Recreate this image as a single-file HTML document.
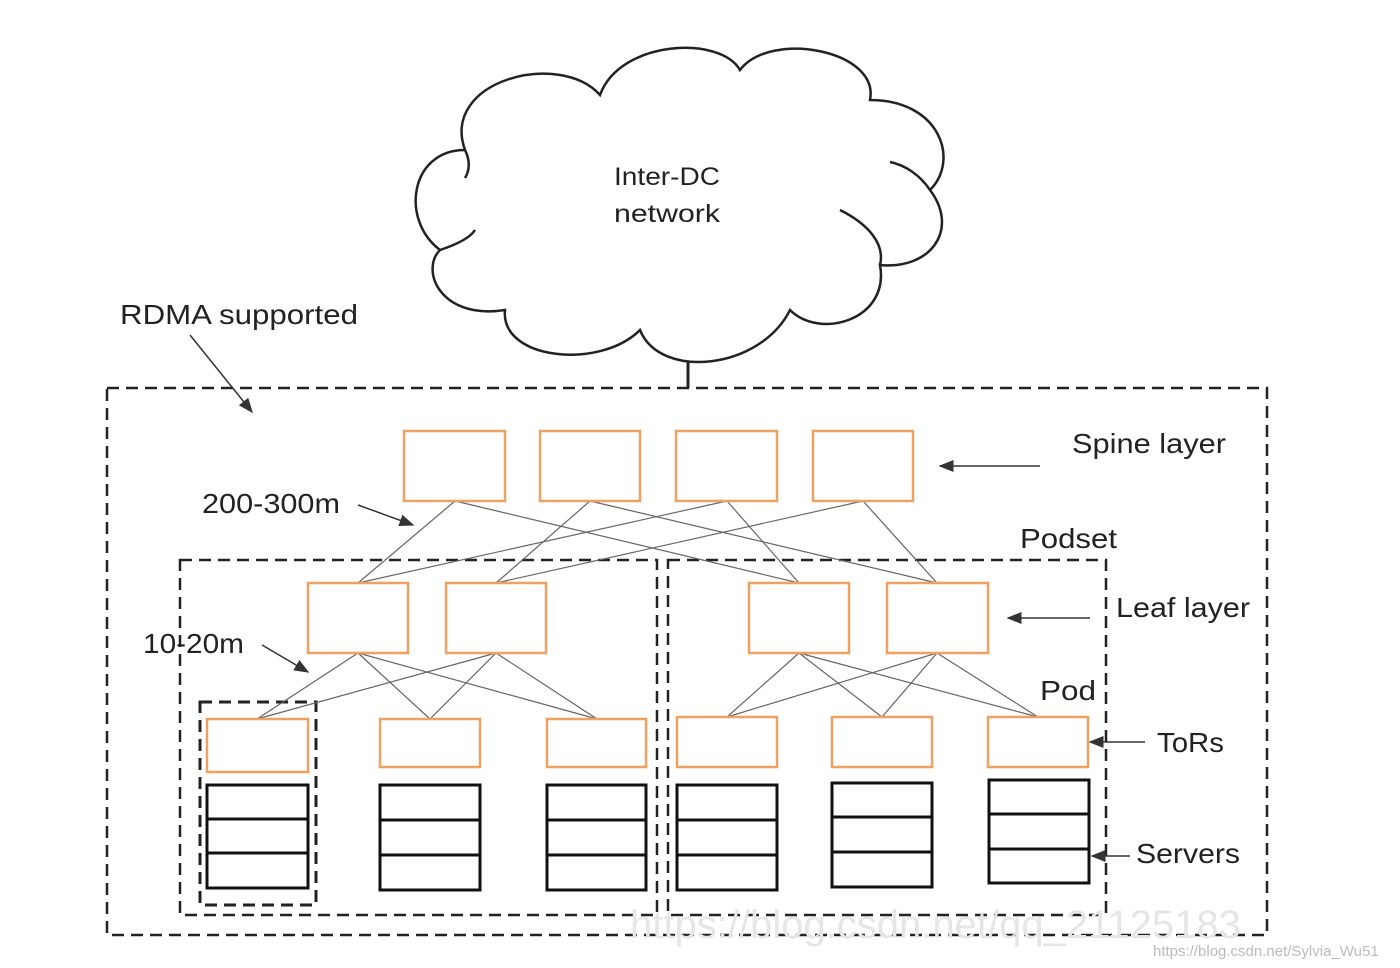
<!DOCTYPE html>
<html><head><meta charset="utf-8"><style>
html,body{margin:0;padding:0;background:#fff;}
svg{display:block;}
text{font-family:"Liberation Sans",sans-serif;fill:#222;}
</style></head><body>
<svg width="1400" height="968" viewBox="0 0 1400 968" xmlns="http://www.w3.org/2000/svg">
<defs><marker id="a" markerWidth="10" markerHeight="8" refX="9" refY="4" orient="auto"><path d="M0,0 L10,4 L0,8 Z" fill="#333"/></marker></defs>
<path d="M465,150 C440,80 560,50 600,95 C620,40 720,35 740,70 C770,30 880,50 870,100 C940,100 960,160 930,190 C960,230 930,270 880,265 C890,320 820,340 790,310 C760,370 660,380 640,330 C600,370 500,360 505,310 C440,320 420,270 440,250 C400,220 410,150 465,150 Z" fill="#fff" stroke="#222" stroke-width="2.5"/>
<path d="M840,210 C870,225 885,245 880,265 M930,190 C920,175 905,165 890,162 M465,150 C470,160 470,170 465,178 M440,250 C455,245 470,238 475,230" fill="none" stroke="#222" stroke-width="2.5"/>
<text x="614" y="185" font-size="25" textLength="106" lengthAdjust="spacingAndGlyphs">Inter-DC</text>
<text x="614" y="222" font-size="25" textLength="106" lengthAdjust="spacingAndGlyphs">network</text>
<line x1="688" y1="362" x2="688" y2="388" stroke="#222" stroke-width="3"/>
<rect x="107" y="388" width="1160" height="547" fill="none" stroke="#222" stroke-width="2.5" stroke-dasharray="12,7"/>
<rect x="180" y="560" width="477" height="355" fill="none" stroke="#222" stroke-width="2.5" stroke-dasharray="12,7"/>
<rect x="668" y="560" width="438" height="355" fill="none" stroke="#222" stroke-width="2.5" stroke-dasharray="12,7"/>
<rect x="200" y="702" width="116" height="203" fill="none" stroke="#222" stroke-width="3" stroke-dasharray="12,7"/>
<g stroke="#666" stroke-width="1.2">
<line x1="455" y1="501" x2="358" y2="583"/><line x1="455" y1="501" x2="799" y2="583"/>
<line x1="590" y1="501" x2="496" y2="583"/><line x1="590" y1="501" x2="937" y2="583"/>
<line x1="727" y1="501" x2="358" y2="583"/><line x1="727" y1="501" x2="799" y2="583"/>
<line x1="863" y1="501" x2="496" y2="583"/><line x1="863" y1="501" x2="937" y2="583"/>
<line x1="358" y1="653" x2="257" y2="719"/><line x1="358" y1="653" x2="430" y2="719"/><line x1="358" y1="653" x2="597" y2="719"/>
<line x1="496" y1="653" x2="257" y2="719"/><line x1="496" y1="653" x2="430" y2="719"/><line x1="496" y1="653" x2="597" y2="719"/>
<line x1="799" y1="653" x2="727" y2="717"/><line x1="799" y1="653" x2="882" y2="717"/><line x1="799" y1="653" x2="1038" y2="717"/>
<line x1="937" y1="653" x2="727" y2="717"/><line x1="937" y1="653" x2="882" y2="717"/><line x1="937" y1="653" x2="1038" y2="717"/>
</g>
<g fill="#fff" stroke="#F0A060" stroke-width="2.5">
<rect x="404" y="431" width="101" height="70"/><rect x="540" y="431" width="100" height="70"/>
<rect x="676" y="431" width="101" height="70"/><rect x="813" y="431" width="100" height="70"/>
<rect x="308" y="583" width="100" height="70"/><rect x="446" y="583" width="100" height="70"/>
<rect x="749" y="583" width="100" height="70"/><rect x="887" y="583" width="101" height="70"/>
<rect x="207" y="719" width="101" height="53"/><rect x="380" y="719" width="100" height="48"/>
<rect x="547" y="719" width="99" height="48"/><rect x="677" y="717" width="100" height="50"/>
<rect x="832" y="717" width="100" height="50"/><rect x="988" y="717" width="100" height="50"/>
</g>
<g fill="#fff" stroke="#111" stroke-width="3">
<rect x="207" y="785" width="101" height="103"/><line x1="207" y1="819" x2="308" y2="819"/><line x1="207" y1="853" x2="308" y2="853"/>
<rect x="380" y="785" width="100" height="105"/><line x1="380" y1="820" x2="480" y2="820"/><line x1="380" y1="855" x2="480" y2="855"/>
<rect x="547" y="785" width="99" height="105"/><line x1="547" y1="820" x2="646" y2="820"/><line x1="547" y1="855" x2="646" y2="855"/>
<rect x="677" y="785" width="100" height="105"/><line x1="677" y1="820" x2="777" y2="820"/><line x1="677" y1="855" x2="777" y2="855"/>
<rect x="832" y="783" width="100" height="104"/><line x1="832" y1="817" x2="932" y2="817"/><line x1="832" y1="852" x2="932" y2="852"/>
<rect x="989" y="780" width="100" height="103"/><line x1="989" y1="814" x2="1089" y2="814"/><line x1="989" y1="849" x2="1089" y2="849"/>
</g>
<g stroke="#333" stroke-width="1.5" marker-end="url(#a)">
<line x1="190" y1="335" x2="252" y2="412"/>
<line x1="1040" y1="466" x2="940" y2="466"/>
<line x1="358" y1="505" x2="413" y2="525"/>
<line x1="1090" y1="618" x2="1008" y2="618"/>
<line x1="262" y1="645" x2="308" y2="672"/>
<line x1="1145" y1="742" x2="1090" y2="742"/>
<line x1="1130" y1="856" x2="1092" y2="856"/>
</g>
<g font-size="28" lengthAdjust="spacingAndGlyphs">
<text x="120" y="324" textLength="238" lengthAdjust="spacingAndGlyphs">RDMA supported</text>
<text x="1072" y="453" textLength="154" lengthAdjust="spacingAndGlyphs">Spine layer</text>
<text x="202" y="513" textLength="138" lengthAdjust="spacingAndGlyphs">200-300m</text>
<text x="1020" y="548" textLength="97" lengthAdjust="spacingAndGlyphs">Podset</text>
<text x="1116" y="617" textLength="134" lengthAdjust="spacingAndGlyphs">Leaf layer</text>
<text x="143" y="653" textLength="101" lengthAdjust="spacingAndGlyphs">10-20m</text>
<text x="1040" y="700" textLength="56" lengthAdjust="spacingAndGlyphs">Pod</text>
<text x="1157" y="752" textLength="67" lengthAdjust="spacingAndGlyphs">ToRs</text>
<text x="1136" y="863" textLength="104" lengthAdjust="spacingAndGlyphs">Servers</text>
</g>
<text x="630" y="938" font-size="40" style="fill:#e6e6e6">https://blog.csdn.net/qq_21125183</text>
<text x="1153" y="956" font-size="15" style="fill:#bbb">https://blog.csdn.net/Sylvia_Wu51</text>
</svg>
</body></html>
